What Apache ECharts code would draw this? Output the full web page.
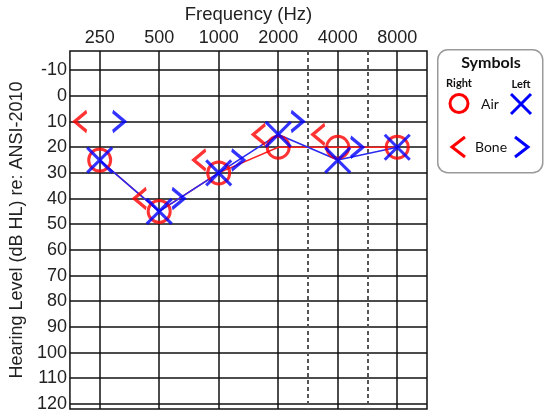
<!DOCTYPE html>
<html>
<head>
<meta charset="utf-8">
<script src="https://cdn.jsdelivr.net/npm/echarts@6/dist/echarts.min.js"></script>
<style>
html,body{margin:0;padding:0;background:#fff;}
#main{width:550px;height:416px;}
</style>
</head>
<body>
<div id="main"></div>
<script>
// ---- data ----
const freqLabels = ['250', '500', '1000', '2000', '4000', '8000'];
const rightAir  = [25, 45, 30, 20, 20, 20];
const leftAir   = [25, 45, 30, 15, 25, 20];
const rightBone = [10, 40, 25, 15, 15, null];
const leftBone  = [10, 40, 25, 10, 20, null];
const yTicks = [-10, 0, 10, 20, 30, 40, 50, 60, 70, 80, 90, 100, 110, 120];
const interOctave = [3.5, 4.5]; // 3000 Hz and 6000 Hz (dashed)

const freqIdx = freqLabels.map((_, i) => i);
function pairs(arr) {
  return arr.map((v, i) => [i, v]).filter(p => p[1] !== null);
}

const RED = '#ff0000';
const BLUE = '#0000ff';
const TXT = '#222';
const FONT = 'Liberation Sans, Arial, sans-serif';

const X_PATH = 'path://M0,0L20,20M20,0L0,20';
const LT_PATH = 'path://M12,0L0,10L12,20';
const GT_PATH = 'path://M0,0L12,10L0,20';

const chart = echarts.init(document.getElementById('main'), null, {renderer: 'canvas'});

chart.setOption({
  animation: false,
  backgroundColor: '#fff',
  textStyle: {fontFamily: FONT},
  grid: {left: 63, right: 123, top: 51, bottom: 7, show: true, borderColor: '#111', borderWidth: 1.5, containLabel: false},
  xAxis: {
    type: 'value', position: 'top', min: -0.5, max: 5.5,
    name: 'Frequency (Hz)', nameLocation: 'middle', nameGap: 27,
    nameTextStyle: {fontSize: 18.5, color: TXT, fontFamily: FONT},
    axisLine: {show: false},
    axisTick: {show: false, customValues: freqIdx},
    axisLabel: {customValues: freqIdx, formatter: v => freqLabels[Math.round(v)], fontSize: 18, color: TXT, margin: 4, fontFamily: FONT},
    splitLine: {show: true, lineStyle: {color: '#111', width: 1.5}}
  },
  yAxis: {
    type: 'value', inverse: true, min: -17.5, max: 122,
    name: 'Hearing Level (dB HL) re: ANSI-2010', nameLocation: 'middle', nameGap: 41,
    nameTextStyle: {fontSize: 18, color: TXT, fontFamily: FONT},
    axisLine: {show: false},
    axisTick: {show: false, customValues: yTicks},
    axisLabel: {customValues: yTicks, fontSize: 18, color: TXT, margin: 3, fontFamily: FONT},
    splitLine: {show: true, lineStyle: {color: '#111', width: 1.5}}
  },
  series: [
    {
      type: 'line', name: 'Right air line', data: pairs(rightAir), showSymbol: false, silent: true, z: 2,
      lineStyle: {color: '#ff2020', width: 1.4},
      markLine: {
        silent: true, symbol: 'none', label: {show: false},
        lineStyle: {color: '#555', width: 2, type: [4, 3]},
        data: interOctave.map(v => ({xAxis: v}))
      }
    },
    {
      type: 'line', name: 'Left air line', data: pairs(leftAir), showSymbol: false, silent: true, z: 2,
      lineStyle: {color: '#2a2af0', width: 1.6}
    },
    {
      type: 'scatter', name: 'Right air', data: pairs(rightAir), symbol: 'circle', symbolSize: 22, silent: true, z: 3,
      itemStyle: {color: 'transparent', borderColor: RED, borderWidth: 3}
    },
    {
      type: 'scatter', name: 'Left air', data: pairs(leftAir), symbol: X_PATH, symbolSize: 25, silent: true, z: 4,
      itemStyle: {color: 'transparent', borderColor: BLUE, borderWidth: 3}
    },
    {
      type: 'scatter', name: 'Right bone', data: pairs(rightBone), symbol: LT_PATH, symbolSize: [12, 20], symbolOffset: [-19, 0], silent: true, z: 3,
      itemStyle: {color: 'transparent', borderColor: RED, borderWidth: 3}
    },
    {
      type: 'scatter', name: 'Left bone', data: pairs(leftBone), symbol: GT_PATH, symbolSize: [12, 20], symbolOffset: [19, 0], silent: true, z: 3,
      itemStyle: {color: 'transparent', borderColor: BLUE, borderWidth: 3}
    }
  ],
  graphic: [
    {type: 'rect', left: 437, top: 49, shape: {width: 105, height: 123, r: 10}, style: {fill: '#fff', stroke: '#9a9a9a', lineWidth: 1.5}, silent: true},
    {type: 'text', x: 491, y: 63, style: {text: 'Symbols', font: 'bold 16px Lato, sans-serif', fill: '#111', align: 'center', verticalAlign: 'middle'}, silent: true},
    {type: 'text', x: 459, y: 83, style: {text: 'Right', font: 'bold 11px Lato, sans-serif', fill: '#111', align: 'center', verticalAlign: 'middle'}, silent: true},
    {type: 'text', x: 521, y: 84, style: {text: 'Left', font: 'bold 11px Lato, sans-serif', fill: '#111', align: 'center', verticalAlign: 'middle'}, silent: true},
    {type: 'circle', shape: {cx: 459, cy: 103.5, r: 9}, style: {fill: 'none', stroke: RED, lineWidth: 3}, silent: true},
    {type: 'text', x: 490, y: 104, style: {text: 'Air', font: '14px Lato, sans-serif', fill: '#111', align: 'center', verticalAlign: 'middle'}, silent: true},
    {type: 'polyline', shape: {points: [[511, 94], [531, 114]]}, style: {stroke: BLUE, lineWidth: 3}, silent: true},
    {type: 'polyline', shape: {points: [[531, 94], [511, 114]]}, style: {stroke: BLUE, lineWidth: 3}, silent: true},
    {type: 'polyline', shape: {points: [[465, 137], [452, 147], [465, 157]]}, style: {stroke: RED, lineWidth: 3, fill: 'none'}, silent: true},
    {type: 'text', x: 491, y: 147, style: {text: 'Bone', font: '14px Lato, sans-serif', fill: '#111', align: 'center', verticalAlign: 'middle'}, silent: true},
    {type: 'polyline', shape: {points: [[515, 137], [528, 147], [515, 157]]}, style: {stroke: BLUE, lineWidth: 3, fill: 'none'}, silent: true}
  ]
});
</script>
</body>
</html>
